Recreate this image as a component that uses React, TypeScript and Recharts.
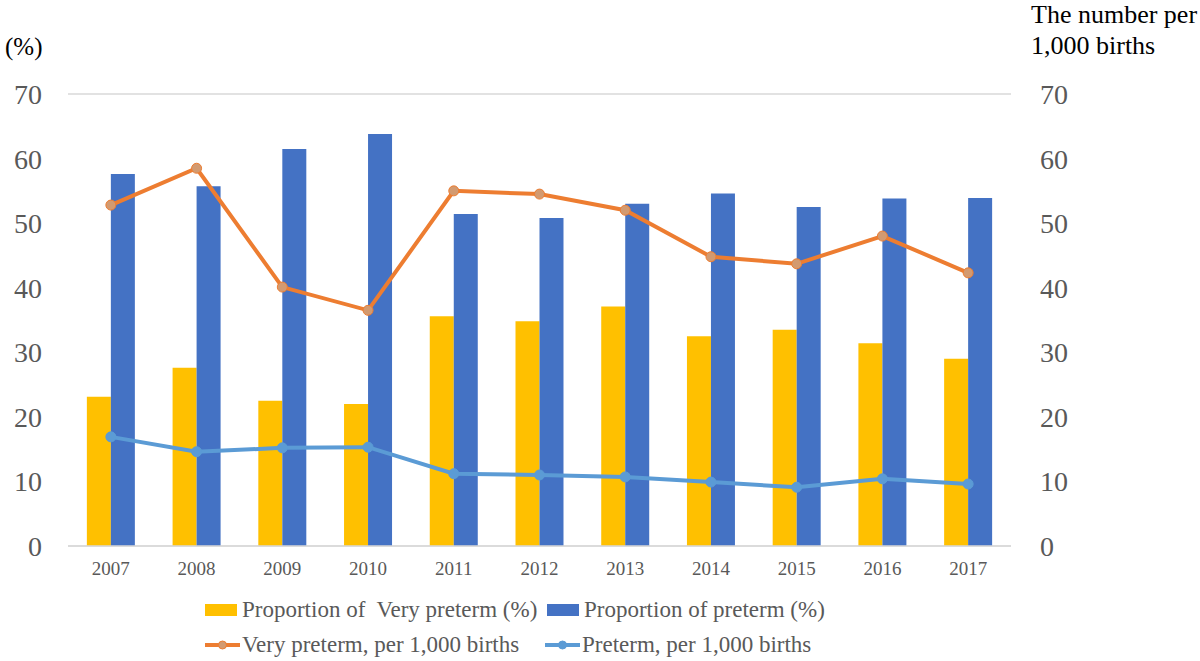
import React from 'react';
import { ComposedChart, Bar, Line, XAxis, YAxis, CartesianGrid } from 'recharts';

const years = ['2007', '2008', '2009', '2010', '2011', '2012', '2013', '2014', '2015', '2016', '2017'];
const veryPretermPct = [23.1, 27.6, 22.5, 22.0, 35.6, 34.8, 37.1, 32.5, 33.5, 31.4, 29.0];
const pretermPct = [57.6, 55.7, 61.5, 63.8, 51.4, 50.8, 53.0, 54.6, 52.5, 53.8, 53.9];
const veryPretermPer1000 = [52.8, 58.5, 40.1, 36.5, 55.0, 54.5, 52.0, 44.8, 43.7, 48.0, 42.3];
const pretermPer1000 = [16.9, 14.6, 15.2, 15.3, 11.2, 11.0, 10.7, 9.9, 9.1, 10.4, 9.6];
const yTicks = [0, 10, 20, 30, 40, 50, 60, 70];

const data = years.map((year, i) => ({
  year,
  veryPretermPct: veryPretermPct[i],
  pretermPct: pretermPct[i],
  veryPretermPer1000: veryPretermPer1000[i],
  pretermPer1000: pretermPer1000[i],
}));

const FONT = '"Liberation Serif", "DejaVu Serif", serif';
const GREY = '#595959';

const Swatch = ({ color }: { color: string }) => (
  <span style={{ display: 'inline-block', width: 32, height: 12, background: color, marginRight: 5 }} />
);

const LineIcon = ({ color, dot }: { color: string; dot: string }) => (
  <svg width={35} height={12} style={{ marginRight: 2 }}>
    <line x1={0} y1={6} x2={35} y2={6} stroke={color} strokeWidth={4} />
    <circle cx={17.5} cy={6} r={4} fill={dot} stroke={color} strokeWidth={1} />
  </svg>
);

const itemStyle: React.CSSProperties = {
  position: 'absolute',
  display: 'flex',
  alignItems: 'center',
  whiteSpace: 'pre',
  fontFamily: FONT,
  fontSize: 23,
  lineHeight: '26px',
  color: GREY,
};

export default function App() {
  return (
    <div style={{ position: 'absolute', top: 0, left: 0, width: 1200, height: 661, background: '#fff' }}>
      <ComposedChart
        width={1200}
        height={661}
        data={data}
        margin={{ top: 94, right: 89, bottom: 85, left: 0 }}
        barGap={0}
        barCategoryGap="22%"
      >
        <CartesianGrid vertical={false} stroke="#D9D9D9" strokeWidth={1.5} />
        <XAxis
          dataKey="year"
          height={30}
          tickLine={false}
          axisLine={{ stroke: '#D9D9D9', strokeWidth: 1.5 }}
          tickMargin={10}
          tick={{ fill: GREY, fontSize: 19, fontFamily: FONT }}
        />
        <YAxis
          yAxisId="left"
          width={68}
          domain={[0, 70]}
          ticks={yTicks}
          axisLine={false}
          tickLine={false}
          tickMargin={20}
          tick={{ fill: GREY, fontSize: 28, fontFamily: FONT }}
        />
        <YAxis
          yAxisId="right"
          orientation="right"
          width={100}
          domain={[0, 70]}
          ticks={yTicks}
          axisLine={false}
          tickLine={false}
          tickMargin={23}
          tick={{ fill: GREY, fontSize: 28, fontFamily: FONT, textAnchor: 'start' }}
        />
        <Bar yAxisId="left" dataKey="veryPretermPct" fill="#FFC000" isAnimationActive={false} />
        <Bar yAxisId="left" dataKey="pretermPct" fill="#4472C4" isAnimationActive={false} />
        <Line
          yAxisId="right"
          dataKey="veryPretermPer1000"
          stroke="#ED7D31"
          strokeWidth={4}
          dot={{ r: 5, fill: '#D39A70', stroke: '#ED7D31', strokeWidth: 1 }}
          isAnimationActive={false}
        />
        <Line
          yAxisId="right"
          dataKey="pretermPer1000"
          stroke="#5B9BD5"
          strokeWidth={4}
          dot={{ r: 5, fill: '#5B9BD5', stroke: '#5B9BD5', strokeWidth: 1 }}
          isAnimationActive={false}
        />
      </ComposedChart>

      <div style={{ position: 'absolute', left: 5, top: 33, fontFamily: FONT, fontSize: 25, color: '#000' }}>(%)</div>
      <div style={{ position: 'absolute', left: 1031, top: -1, fontFamily: FONT, fontSize: 26, lineHeight: '31px', color: '#000' }}>
        The number per
        <br />
        1,000 births
      </div>

      <div style={{ ...itemStyle, left: 205, top: 597 }}>
        <Swatch color="#FFC000" />
        {'Proportion of  Very preterm (%)'}
      </div>
      <div style={{ ...itemStyle, left: 547, top: 597 }}>
        <Swatch color="#4472C4" />
        Proportion of preterm (%)
      </div>
      <div style={{ ...itemStyle, left: 205, top: 632 }}>
        <LineIcon color="#ED7D31" dot="#D39A70" />
        Very preterm, per 1,000 births
      </div>
      <div style={{ ...itemStyle, left: 545, top: 632 }}>
        <LineIcon color="#5B9BD5" dot="#5B9BD5" />
        Preterm, per 1,000 births
      </div>
    </div>
  );
}
